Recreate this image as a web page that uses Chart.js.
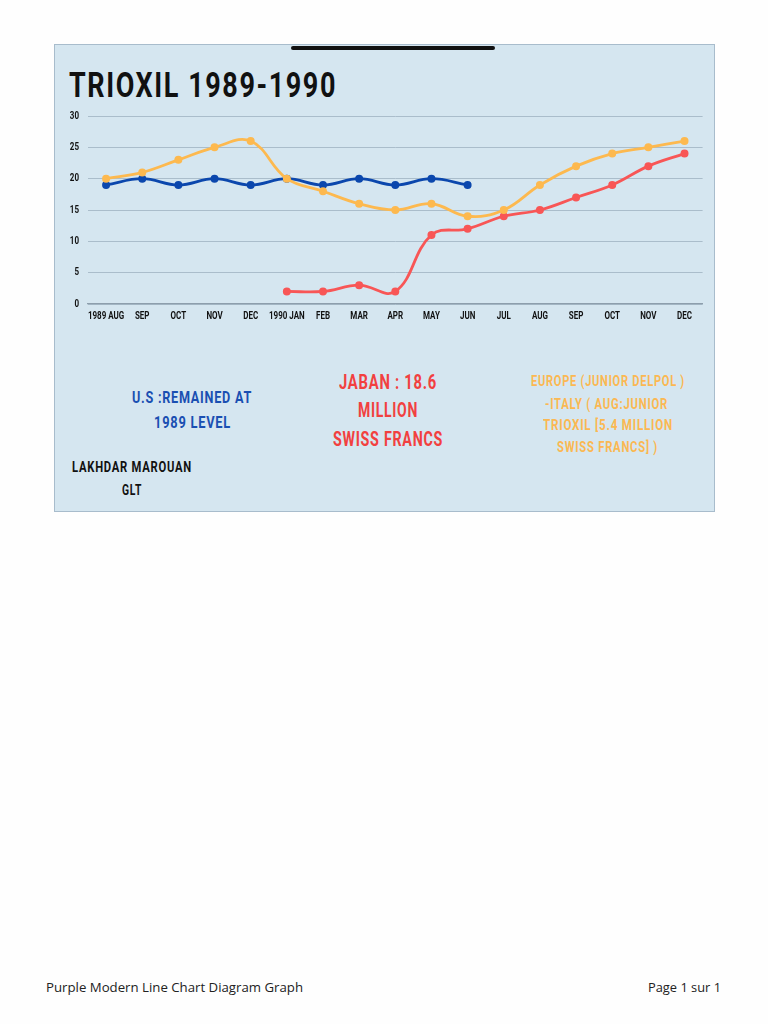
<!DOCTYPE html>
<html>
<head>
<meta charset="utf-8">
<script src="https://cdn.jsdelivr.net/npm/chart.js@4.4.0/dist/chart.umd.min.js"></script>
<style>
  html, body { margin:0; padding:0; background:#fefefe; width:768px; height:1024px; overflow:hidden; }
  body { position:relative; font-family:Roboto,"Liberation Sans",sans-serif; }
  #panel { position:absolute; left:54px; top:44px; width:659px; height:466px; background:#d5e6f0; border:1px solid #a8bccc; }
  #bar { position:absolute; left:291px; top:46px; width:204px; height:4px; background:#111; border-radius:2px; }
  .t { position:absolute; font-weight:bold; white-space:nowrap; line-height:1; transform-origin:0 0; letter-spacing:1px; }
  .f { position:absolute; white-space:nowrap; line-height:1; transform-origin:0 0; font-family:"Open Sans","Noto Sans",sans-serif; font-size:13px; color:#222; }
  #wrap { position:absolute; left:62px; top:100.7px; width:646px; height:230px; }
  .blue { color:#1a4fb2; font-size:17px; }
  .red { color:#f2403f; font-size:20px; }
  .orange { color:#fbb852; font-size:15px; }
  .black { color:#111; font-size:15px; }
</style>
</head>
<body>
<div id="panel"></div>
<div id="bar"></div>
<div class="t" data-w="268" style="left:69px;top:67.6px;font-size:34.5px;color:#111;letter-spacing:2px;">TRIOXIL 1989-1990</div>
<div id="wrap"><canvas id="c" width="646" height="230"></canvas></div>

<div class="t blue" data-w="120" style="left:132px;top:388.7px;">U.S :REMAINED AT</div>
<div class="t blue" data-w="77" style="left:154px;top:413.7px;">1989 LEVEL</div>

<div class="t red" data-w="98" style="left:339px;top:372.2px;">JABAN : 18.6</div>
<div class="t red" data-w="60" style="left:358px;top:400.2px;">MILLION</div>
<div class="t red" data-w="110" style="left:333px;top:429.2px;">SWISS FRANCS</div>

<div class="t orange" data-w="154" style="left:531px;top:374.1px;">EUROPE (JUNIOR DELPOL )</div>
<div class="t orange" data-w="123" style="left:545px;top:396.7px;">-ITALY ( AUG:JUNIOR</div>
<div class="t orange" data-w="130" style="left:543px;top:418.4px;">TRIOXIL [5.4 MILLION</div>
<div class="t orange" data-w="101" style="left:557px;top:439.7px;">SWISS FRANCS] )</div>

<div class="t black" data-w="120" style="left:72px;top:460.4px;">LAKHDAR MAROUAN</div>
<div class="t black" data-w="20" style="left:122px;top:483.4px;">GLT</div>

<div class="f" data-w="257" style="left:46px;top:980.8px;">Purple Modern Line Chart Diagram Graph</div>
<div class="f" data-w="73" style="left:648px;top:980.8px;">Page 1 sur 1</div>

<script>
const labels = ["1989 AUG","SEP","OCT","NOV","DEC","1990 JAN","FEB","MAR","APR","MAY","JUN","JUL","AUG","SEP","OCT","NOV","DEC"];
const usValues = [19,20,19,20,19,20,19,20,19,20,19,null,null,null,null,null,null];
const europeValues = [20,21,23,25,26,20,18,16,15,16,14,15,19,22,24,25,26];
const japanValues = [null,null,null,null,null,2,2,3,2,11,12,14,15,17,19,22,24];
const yTicks = [0,5,10,15,20,25,30];

function fitTexts() {
  document.querySelectorAll('[data-w]').forEach(el => {
    el.style.transform = 'none';
    const w = el.getBoundingClientRect().width;
    const target = parseFloat(el.dataset.w);
    if (w > 0) el.style.transform = 'scaleX(' + (target / w) + ')';
  });
}

function ds(label, data, color) {
  return { label, data, borderColor: color, backgroundColor: color, borderWidth: 2.8,
           pointRadius: 2.6, pointHoverRadius: 2.6, tension: 0.4, spanGaps: false, fill: false };
}

function build() {
  fitTexts();
  const canvas = document.getElementById('c');
  const ctx = canvas.getContext('2d');
  // condensed look for axis labels (narrow face not installed)
  const origFill = ctx.fillText.bind(ctx);
  ctx.fillText = function (text, x, y) {
    ctx.save(); ctx.translate(x, y); ctx.scale(0.8, 1); origFill(text, 0, 0); ctx.restore();
  };
  const tickFont = { family: 'Roboto, "Liberation Sans", sans-serif', size: 10, weight: 'bold' };
  new Chart(ctx, {
    type: 'line',
    data: { labels, datasets: [
      ds('Europe', europeValues, '#fdb94f'),
      ds('Japan', japanValues, '#f85656'),
      ds('US', usValues, '#0b47ad')
    ]},
    options: {
      responsive: false, animation: false, devicePixelRatio: 1,
      layout: { padding: { top: 3, right: 5, left: 0, bottom: 0 } },
      plugins: { legend: { display: false }, tooltip: { enabled: false } },
      scales: {
        x: {
          offset: true,
          grid: { display: false, drawTicks: false },
          border: { display: true, color: '#8d9eac', width: 1.3 },
          ticks: { color: '#111', font: tickFont, padding: 6, maxRotation: 0, autoSkip: false },
          afterFit: s => { s.height = 27; }
        },
        y: {
          min: 0, max: 30,
          afterBuildTicks: s => { s.ticks = yTicks.map(v => ({ value: v })); },
          grid: { color: '#aabdcb', lineWidth: 1, drawTicks: false },
          border: { display: false },
          ticks: { color: '#111', font: tickFont, padding: 9 },
          afterFit: s => { s.width = 26; }
        }
      }
    }
  });
}

Promise.all([
  document.fonts.load('bold 10px Roboto'),
  document.fonts.load('bold 20px Roboto'),
  document.fonts.load('13px "Open Sans"')
]).catch(() => {}).then(() => document.fonts.ready).then(build);
</script>
</body>
</html>
